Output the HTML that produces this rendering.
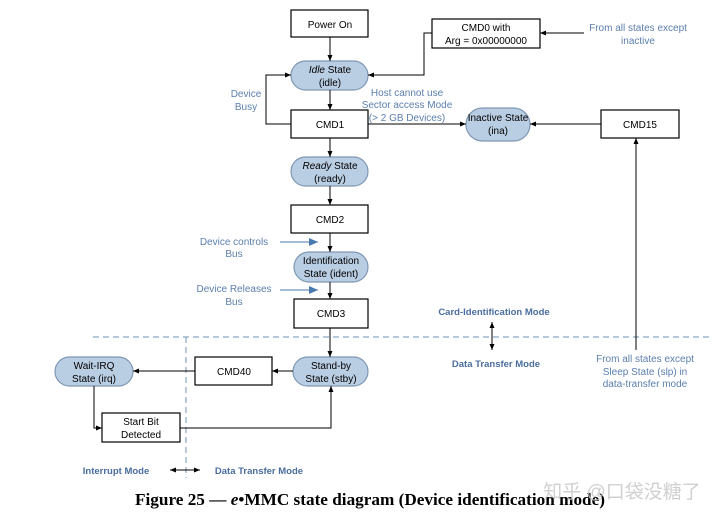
<!DOCTYPE html>
<html><head><meta charset="utf-8"><style>
html,body{margin:0;padding:0;background:#fff;}
svg{display:block;font-family:"Liberation Sans",Arial,sans-serif;}
.b{fill:#fff;stroke:#000;stroke-width:1.2}
.s{fill:#b9cde3;stroke:#7f97b3;stroke-width:1.2}
.t{font-size:10px;fill:#000;text-anchor:middle}
.c{font-size:10px;fill:#5b7fae;text-anchor:middle}
.m{font-size:9.5px;fill:#4a6e9e;font-weight:bold;text-anchor:middle}
.l{stroke:#000;stroke-width:1;fill:none}
</style></head><body>
<svg width="723" height="522" viewBox="0 0 723 522">
<defs>
<marker id="a" markerWidth="8" markerHeight="8" refX="6" refY="3.5" orient="auto" markerUnits="userSpaceOnUse"><path d="M0,1 L6,3.5 L0,6z" fill="#000"/></marker>
<marker id="ab" markerWidth="10" markerHeight="8" refX="9" refY="4" orient="auto" markerUnits="userSpaceOnUse"><path d="M0,0 L9,4 L0,8z" fill="#4a78b0"/></marker>
</defs>
<rect class="b" x="291" y="10" width="77" height="27"/><text class="t" x="330" y="28">Power On</text>
<rect class="b" x="432" y="19" width="108" height="29"/><text class="t" x="486" y="31">CMD0 with</text><text class="t" x="486" y="44">Arg = 0x00000000</text>
<text class="c" x="638" y="31">From all states except</text><text class="c" x="638" y="44">inactive</text>
<rect class="s" x="291" y="61" width="77" height="29" rx="14.5"/><text class="t" x="330" y="73"><tspan font-style="italic">Idle</tspan> State</text><text class="t" x="330" y="86">(idle)</text>
<rect class="b" x="291" y="110" width="77" height="28"/><text class="t" x="330" y="128">CMD1</text>
<text class="c" x="246" y="97">Device</text><text class="c" x="246" y="110">Busy</text>
<text class="c" x="407" y="96">Host cannot use</text><text class="c" x="407" y="108">Sector access Mode</text><text class="c" x="407" y="121">(&gt; 2 GB Devices)</text>
<rect class="s" x="466" y="108" width="64" height="33" rx="16.5"/><text class="t" x="498" y="121">Inactive State</text><text class="t" x="498" y="134">(ina)</text>
<rect class="b" x="601" y="110" width="78" height="28"/><text class="t" x="640" y="128">CMD15</text>
<rect class="s" x="291" y="157" width="77" height="29" rx="14.5"/><text class="t" x="330" y="169"><tspan font-style="italic">Ready</tspan> State</text><text class="t" x="330" y="182">(ready)</text>
<rect class="b" x="291" y="205" width="77" height="28"/><text class="t" x="330" y="223">CMD2</text>
<text class="c" x="234" y="245">Device controls</text><text class="c" x="234" y="257">Bus</text>
<rect class="s" x="294" y="252" width="74" height="30" rx="15"/><text class="t" x="331" y="264">Identification</text><text class="t" x="331" y="277">State (ident)</text>
<text class="c" x="234" y="292">Device Releases</text><text class="c" x="234" y="305">Bus</text>
<rect class="b" x="294" y="299" width="74" height="29"/><text class="t" x="331" y="317">CMD3</text>
<text class="m" x="494" y="315">Card-Identification Mode</text>
<text class="m" x="496" y="367">Data Transfer Mode</text>
<text class="c" x="645" y="362">From all states except</text><text class="c" x="645" y="375">Sleep State (slp) in</text><text class="c" x="645" y="387">data-transfer mode</text>
<rect class="s" x="293" y="357" width="75" height="29" rx="14.5"/><text class="t" x="331" y="369">Stand-by</text><text class="t" x="331" y="382">State (stby)</text>
<rect class="b" x="195" y="357" width="77" height="28"/><text class="t" x="234" y="375">CMD40</text>
<rect class="s" x="55" y="357" width="78" height="29" rx="14.5"/><text class="t" x="94" y="369">Wait-IRQ</text><text class="t" x="94" y="382">State (irq)</text>
<rect class="b" x="102" y="413" width="78" height="29"/><text class="t" x="141" y="425">Start Bit</text><text class="t" x="141" y="438">Detected</text>
<text class="m" x="116" y="474">Interrupt Mode</text>
<text class="m" x="259" y="474">Data Transfer Mode</text>
<line x1="93" y1="337" x2="710" y2="337" stroke="#8aa6c8" stroke-width="1.2" stroke-dasharray="6,4"/>
<line x1="186" y1="337" x2="186" y2="478" stroke="#8aa6c8" stroke-width="1.2" stroke-dasharray="6,4"/>
<line class="l" x1="330" y1="37" x2="330" y2="61" marker-end="url(#a)"/>
<polyline class="l" points="432,33 424,33 424,75 368,75" marker-end="url(#a)"/>
<line class="l" x1="584" y1="33" x2="540" y2="33" marker-end="url(#a)"/>
<line class="l" x1="330" y1="90" x2="330" y2="110" marker-end="url(#a)"/>
<polyline class="l" points="291,124 266,124 266,75 291,75" marker-end="url(#a)"/>
<line class="l" x1="368" y1="124" x2="466" y2="124" marker-end="url(#a)"/>
<line class="l" x1="601" y1="124" x2="530" y2="124" marker-end="url(#a)"/>
<line class="l" x1="636" y1="350" x2="636" y2="138" marker-end="url(#a)" stroke="#555" stroke-width="1.5"/>
<line class="l" x1="330" y1="138" x2="330" y2="157" marker-end="url(#a)"/>
<line class="l" x1="330" y1="186" x2="330" y2="205" marker-end="url(#a)"/>
<line class="l" x1="330" y1="233" x2="330" y2="252" marker-end="url(#a)"/>
<line class="l" x1="330" y1="282" x2="330" y2="299" marker-end="url(#a)"/>
<line class="l" x1="330" y1="328" x2="330" y2="357" marker-end="url(#a)"/>
<line x1="280" y1="242" x2="318" y2="242" stroke="#4a78b0" stroke-width="1" marker-end="url(#ab)"/>
<line x1="280" y1="290" x2="318" y2="290" stroke="#4a78b0" stroke-width="1" marker-end="url(#ab)"/>
<line class="l" x1="293" y1="371" x2="272" y2="371" marker-end="url(#a)"/>
<line class="l" x1="195" y1="371" x2="133" y2="371" marker-end="url(#a)"/>
<polyline class="l" points="94,386 94,428 102,428" marker-end="url(#a)"/>
<polyline class="l" points="180,428 331,428 331,386" marker-end="url(#a)"/>
<line class="l" x1="492" y1="331" x2="492" y2="322" marker-end="url(#a)" stroke-width="1.5"/>
<line class="l" x1="492" y1="331" x2="492" y2="350" marker-end="url(#a)" stroke-width="1.5"/>
<line class="l" x1="185" y1="470" x2="170" y2="470" marker-end="url(#a)" stroke-width="1.5"/>
<line class="l" x1="185" y1="470" x2="200" y2="470" marker-end="url(#a)" stroke-width="1.5"/>
<text x="370" y="505" text-anchor="middle" font-family="'Liberation Serif',serif" font-weight="bold" font-size="17px" fill="#000" textLength="470" lengthAdjust="spacingAndGlyphs">Figure 25 — <tspan font-style="italic">e</tspan>•MMC state diagram (Device identification mode)</text>
<text x="622" y="498" text-anchor="middle" font-family="'Liberation Sans','Noto Sans CJK SC',sans-serif" font-size="19px" fill="#c8c8c8" opacity="0.85">知乎 @口袋没糖了</text>
</svg>
</body></html>
